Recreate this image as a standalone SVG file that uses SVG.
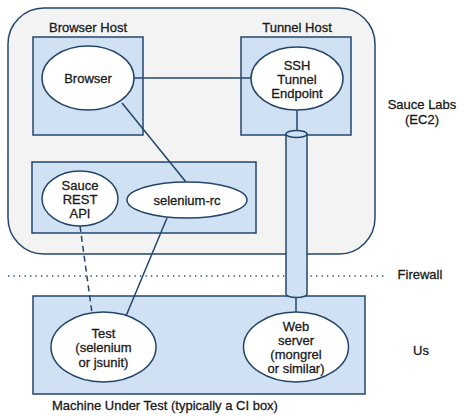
<svg xmlns="http://www.w3.org/2000/svg" width="474" height="418" viewBox="0 0 474 418">
<style>
text{font-family:"Liberation Sans",Arial,sans-serif;font-size:13px;fill:#1a1a1a;stroke:#1a1a1a;stroke-width:0.3;text-anchor:middle}
.box{fill:#cfe1f2;stroke:#24466a;stroke-width:1.5}
.node{fill:#ffffff;stroke:#24466a;stroke-width:1.5}
.ln{fill:none;stroke:#24466a;stroke-width:1.5}
</style>
<rect width="474" height="418" fill="#ffffff"/>
<g id="sauce-labs">
<rect x="8" y="8" width="367" height="246" rx="36" ry="36" fill="#f3f3f3" stroke="#24466a" stroke-width="1.5"/>
<text x="422" y="109">Sauce Labs</text>
<text x="422" y="124">(EC2)</text>
</g>
<g id="browser-host">
<rect class="box" x="33" y="37" width="110" height="98"/>
<text x="88" y="31.5">Browser Host</text>
</g>
<g id="tunnel-host">
<rect class="box" x="241" y="37" width="110" height="98"/>
<text x="297" y="31.5">Tunnel Host</text>
</g>
<g id="rc-host">
<rect class="box" x="32" y="162" width="224" height="71"/>
</g>
<g id="machine-under-test">
<rect class="box" x="33" y="296" width="332" height="98"/>
<text x="165" y="409.5">Machine Under Test (typically a CI box)</text>
</g>
<g id="firewall">
<line x1="8" y1="276" x2="387" y2="276" stroke="#24466a" stroke-width="1.3" stroke-dasharray="1.3 4.2"/>
<text x="420" y="279">Firewall</text>
</g>
<g id="us">
<text x="421" y="354.5">Us</text>
</g>
<g id="connectors">
<line class="ln" x1="134" y1="78" x2="251" y2="78"/>
<line class="ln" x1="122" y1="103" x2="186" y2="182"/>
<line class="ln" x1="167" y1="218" x2="126" y2="316"/>
<line class="ln" x1="80" y1="226" x2="92" y2="313" stroke-dasharray="6 4"/>
<line class="ln" x1="297" y1="110" x2="297" y2="132"/>
<line class="ln" x1="296" y1="297" x2="296" y2="312"/>
</g>
<g id="tunnel">
<path class="box" d="M286 134 L286 294 A10.5 3.5 0 0 0 307 294 L307 134"/>
<ellipse class="box" cx="296.5" cy="134" rx="10.5" ry="3.5"/>
</g>
<g id="browser">
<ellipse class="node" cx="88" cy="78" rx="46" ry="32"/>
<text x="88" y="82.5">Browser</text>
</g>
<g id="ssh-tunnel-endpoint">
<ellipse class="node" cx="297" cy="78.5" rx="46" ry="31.5"/>
<text x="297" y="69.5">SSH</text>
<text x="297" y="83.5">Tunnel</text>
<text x="297" y="97.5">Endpoint</text>
</g>
<g id="sauce-rest-api">
<ellipse class="node" cx="80" cy="198.5" rx="38" ry="27.5"/>
<text x="80" y="189.5">Sauce</text>
<text x="80" y="203.5">REST</text>
<text x="80" y="217.5">API</text>
</g>
<g id="selenium-rc">
<ellipse class="node" cx="187" cy="200" rx="60" ry="18"/>
<text x="187" y="204.5">selenium-rc</text>
</g>
<g id="test">
<ellipse class="node" cx="103.5" cy="347" rx="52.5" ry="35"/>
<text x="103.5" y="337.5">Test</text>
<text x="103.5" y="352">(selenium</text>
<text x="103.5" y="366.5">or jsunit)</text>
</g>
<g id="web-server">
<ellipse class="node" cx="296" cy="347" rx="52.5" ry="35"/>
<text x="296" y="330.5">Web</text>
<text x="296" y="344.5">server</text>
<text x="296" y="358.5">(mongrel</text>
<text x="296" y="372.5">or similar)</text>
</g>
</svg>
